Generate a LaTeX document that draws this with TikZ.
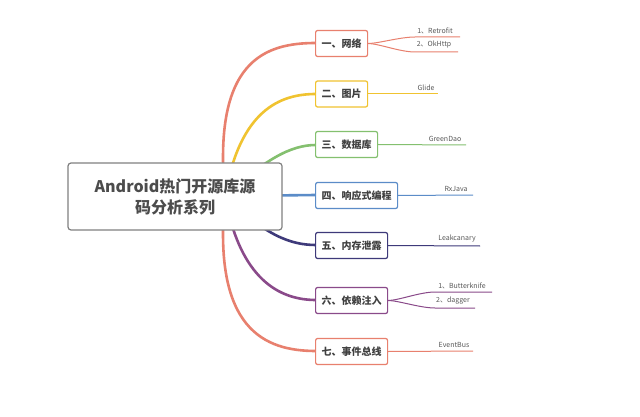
\documentclass[tikz,border=0pt]{standalone}
\usepackage{fontspec}
\setmainfont{Noto Sans CJK SC}
\begin{document}
\begin{tikzpicture}[x=1pt,y=-1pt,
  br/.style={draw=#1,rounded corners=2pt,line width=1.2pt,fill=white,minimum height=26pt,inner xsep=6pt,font=\fontsize{10}{12}\selectfont\bfseries,text=black!75,anchor=west},
  lf/.style={font=\fontsize{7}{8}\selectfont,text=black!65,anchor=south},
  bc/.style={draw=#1,line width=2.6pt,line cap=round},
  lc/.style={draw=#1,line width=1pt}]
\fill[white] (0,0) rectangle (640,417);
\useasboundingbox (0,0) rectangle (640,417);
\definecolor{cR}{HTML}{E8806E}\definecolor{cY}{HTML}{F0C330}\definecolor{cG}{HTML}{84C06F}
\definecolor{cB}{HTML}{5B8CC8}\definecolor{cN}{HTML}{3E3A7A}\definecolor{cP}{HTML}{8A4A8A}
\coordinate (o) at (225,196);
% branch curves
\draw[bc=cR] (o) .. controls (212,60) and (265,43) .. (316,43);
\draw[bc=cY] (o) .. controls (240,110) and (280,94) .. (316,94);
\draw[bc=cG] (o) .. controls (265,160) and (290,145) .. (316,145);
\draw[bc=cB] (o) -- (316,195);
\draw[bc=cN] (o) .. controls (265,235) and (290,245) .. (316,245);
\draw[bc=cP] (o) .. controls (240,280) and (280,300) .. (316,300);
\draw[bc=cR] (o) .. controls (212,330) and (265,351) .. (316,351);
\node[draw=black!50,line width=1.2pt,rounded corners=3pt,fill=white,minimum width=214pt,minimum height=67pt,align=center,font=\fontsize{16}{21}\selectfont\bfseries,text=black!70] (c) at (175,196.5) {Android热门开源库源\\码分析系列};
\node[br=cR] (b1) at (315,43.5) {一、网络};
\node[br=cY] (b2) at (315,94) {二、图片};
\node[br=cG] (b3) at (315,144.5) {三、数据库};
\node[br=cB] (b4) at (315,195.5) {四、响应式编程};
\node[br=cN] (b5) at (315,245.5) {五、内存泄露};
\node[br=cP] (b6) at (315,300.5) {六、依赖注入};
\node[br=cR] (b7) at (315,351.5) {七、事件总线};
% leaves
\coordinate (l1a) at (460,37); \coordinate (l1b) at (458,52);
\draw[lc=cR] (b1.east) .. controls +(10,0) and (400,37) .. (415,37) -- (l1a);
\draw[lc=cR] (b1.east) .. controls +(10,0) and (400,52) .. (415,52) -- (l1b);
\node[lf] (t1a) at (435,37) {1、Retrofit};
\node[lf] (t1b) at (434,52) {2、OkHttp};
\coordinate (l2) at (438,94); \draw[lc=cY] (b2.east) -- (l2);
\node[lf] (t2) at (426,94) {Glide};
\coordinate (l3) at (466,145); \draw[lc=cG] (b3.east) -- (l3);
\node[lf] (t3) at (445,145) {GreenDao};
\coordinate (l4) at (473,195); \draw[lc=cB] (b4.east) -- (l4);
\node[lf] (t4) at (456,195) {RxJava};
\coordinate (l5) at (480,246); \draw[lc=cN] (b5.east) -- (l5);
\node[lf] (t5) at (457,246) {Leakcanary};
\coordinate (l6a) at (492,292); \coordinate (l6b) at (475,308);
\draw[lc=cP] (b6.east) .. controls +(10,0) and (420,292) .. (435,292) -- (l6a);
\draw[lc=cP] (b6.east) .. controls +(10,0) and (420,308) .. (435,308) -- (l6b);
\node[lf] (t6a) at (462,292) {1、Butterknife};
\node[lf] (t6b) at (453,308) {2、dagger};
\coordinate (l7) at (473,351); \draw[lc=cR] (b7.east) -- (l7);
\node[lf] (t7) at (454,351) {EventBus};
\end{tikzpicture}
\end{document}
